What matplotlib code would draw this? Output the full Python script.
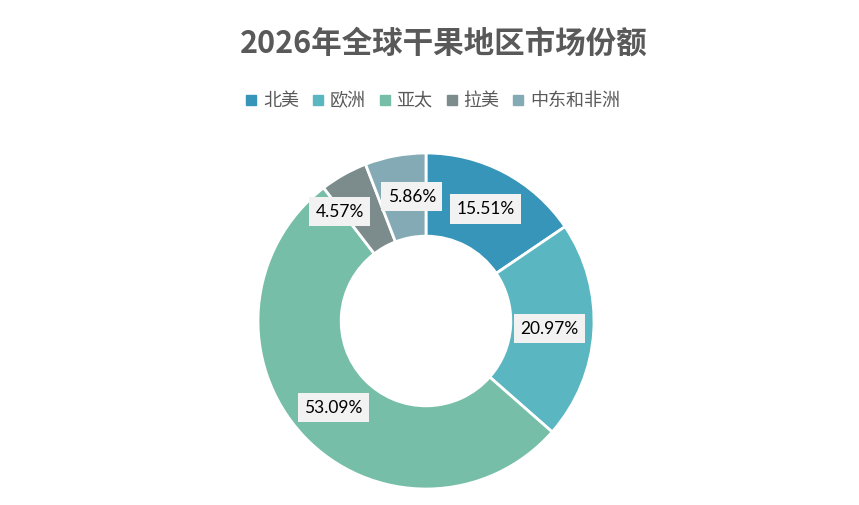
import matplotlib
matplotlib.use("Agg")
import matplotlib.pyplot as plt
from matplotlib.lines import Line2D
import numpy as np

plt.rcParams['font.family'] = ['Noto Sans CJK SC', 'DejaVu Sans']

regions = ["北美", "欧洲", "亚太", "拉美", "中东和非洲"]
shares = [15.51, 20.97, 53.09, 4.57, 5.86]
colors = ["#3795BA", "#5AB6C1", "#76BEA7", "#7C8C8D", "#84ABB5"]

fig = plt.figure(figsize=(8.59, 5.05), dpi=100)
fig.patch.set_facecolor("white")

W, H = 859, 505
cx, cy, r = 426, 505 - 321, 168
ax = fig.add_axes([(cx - r) / W, (cy - r) / H, 2 * r / W, 2 * r / H])

wedges, _ = ax.pie(shares, colors=colors, startangle=90, counterclock=False,
                   radius=1.0, wedgeprops=dict(width=0.495, edgecolor="white", linewidth=2))
ax.set_xlim(-1, 1)
ax.set_ylim(-1, 1)
ax.set_aspect("equal")
ax.axis("off")

# labels sit in the middle of the ring; the two small slices are pushed apart
total = sum(shares)
start = 90.0
label_r = [0.755, 0.735, 0.755, 0.83, 0.745]
label_shift = [0, 0, 0, 9, -4]
for val, lr, sh in zip(shares, label_r, label_shift):
    sweep = val / total * 360
    mid = np.deg2rad(start - sweep / 2 + sh)
    start -= sweep
    ax.text(lr * np.cos(mid), lr * np.sin(mid), f"{val:.2f}%",
            ha="center", va="center", fontsize=12.5, color="black",
            family=["Lato", "DejaVu Sans"],
            bbox=dict(boxstyle="square,pad=0.38", facecolor="#F2F2F2", edgecolor="none"))

fig.text(444 / W, 1 - 44 / H, "2026年全球干果地区市场份额", ha="center", va="center",
         fontsize=22, fontweight="bold", color="#595959")

handles = [Line2D([0], [0], marker="s", linestyle="none", markersize=7,
                  markerfacecolor=c, markeredgecolor=c) for c in colors]
fig.legend(handles, regions, loc="center", bbox_to_anchor=(433 / W, 1 - 101 / H),
           ncol=5, frameon=False, fontsize=13, labelcolor="#595959",
           handlelength=0.6, handletextpad=0.35, columnspacing=0.75)

fig.savefig("out.png", dpi=100)
